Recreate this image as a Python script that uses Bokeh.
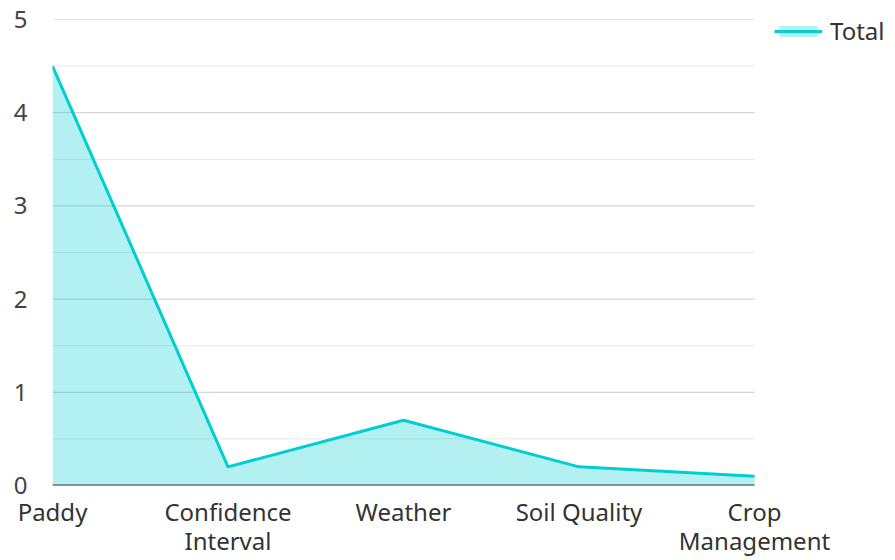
from bokeh.plotting import figure
from bokeh.models import Range1d, FixedTicker, Legend, LegendItem, ColumnDataSource
from bokeh.embed import file_html
from bokeh.resources import INLINE

categories = ["Paddy", "Confidence Interval", "Weather", "Soil Quality", "Crop Management"]
tick_labels = ["Paddy", "Confidence\nInterval", "Weather", "Soil Quality", "Crop\nManagement"]
totals = [4.5, 0.2, 0.7, 0.2, 0.1]
series_name = "Total"
y_ticks = [0, 1, 2, 3, 4, 5]
y_minor = [0.5, 1.5, 2.5, 3.5, 4.5]

FONT = "Noto Sans"
COLOR = "#00CED1"

# plot area: categories span 52..754 px, legend sits in the extra frame room to the right
FRAME_LEFT, CAT_RIGHT, FRAME_RIGHT = 52, 754, 895
xs = list(range(len(categories)))
x_last = xs[-1]
x_end = x_last * (FRAME_RIGHT - FRAME_LEFT) / (CAT_RIGHT - FRAME_LEFT)

src = ColumnDataSource(dict(x=xs, y=totals, y0=[0] * len(xs)))

p = figure(width=895, height=560, output_backend="svg", toolbar_location=None,
           x_range=Range1d(0, x_end), y_range=Range1d(0, 5),
           min_border_left=FRAME_LEFT, min_border_right=0, min_border_top=19, min_border_bottom=73)
p.outline_line_color = None
p.background_fill_color = "white"
p.border_fill_color = "white"

# grid lines limited to the category span
p.xgrid.grid_line_color = None
p.ygrid.grid_line_color = None
p.segment(x0=[0] * len(y_minor), x1=[x_last] * len(y_minor), y0=y_minor, y1=y_minor,
          line_color="#e8e8e8", line_width=1)
p.segment(x0=[0] * (len(y_ticks) - 1), x1=[x_last] * (len(y_ticks) - 1),
          y0=y_ticks[1:], y1=y_ticks[1:], line_color="#cccccc", line_width=1)

area = p.varea(x="x", y1="y0", y2="y", source=src, fill_color=COLOR, fill_alpha=0.3)
line = p.line(x="x", y="y", source=src, line_color=COLOR, line_width=3)

# baseline (x axis line) across the category span
p.segment(x0=[0], x1=[x_last], y0=[y_ticks[0]], y1=[y_ticks[0]], line_color="#333333", line_width=2)

# y axis
p.yaxis.ticker = FixedTicker(ticks=y_ticks, minor_ticks=y_minor)
p.yaxis.axis_line_color = None
p.yaxis.major_tick_line_color = None
p.yaxis.minor_tick_line_color = None
p.yaxis.major_tick_out = 0
p.yaxis.minor_tick_out = 0
p.yaxis.major_label_standoff = 25
p.yaxis.major_label_text_font = FONT
p.yaxis.major_label_text_font_size = "24px"
p.yaxis.major_label_text_color = "#444444"

# x axis
p.xaxis.ticker = FixedTicker(ticks=xs)
p.xaxis.major_label_overrides = {i: t for i, t in zip(xs, tick_labels)}
p.xaxis.axis_line_color = None
p.xaxis.major_tick_line_color = None
p.xaxis.minor_tick_line_color = None
p.xaxis.major_tick_out = 0
p.xaxis.minor_tick_out = 0
p.xaxis.major_label_standoff = 9
p.xaxis.major_label_text_font = FONT
p.xaxis.major_label_text_font_size = "24px"
p.xaxis.major_label_text_line_height = 0.9
p.xaxis.major_label_text_color = "#333333"
p.xaxis.major_label_orientation = "horizontal"

legend = Legend(items=[LegendItem(label=series_name, renderers=[area, line])],
                location=(722, 438), orientation="vertical")
legend.border_line_color = None
legend.background_fill_alpha = 0
legend.padding = 0
legend.margin = 0
legend.glyph_width = 48
legend.glyph_height = 14
legend.label_standoff = 8
legend.label_text_font = FONT
legend.label_text_font_size = "24px"
legend.label_text_color = "#333333"
p.add_layout(legend, "center")

open("out.html", "w").write(file_html(p, INLINE))
